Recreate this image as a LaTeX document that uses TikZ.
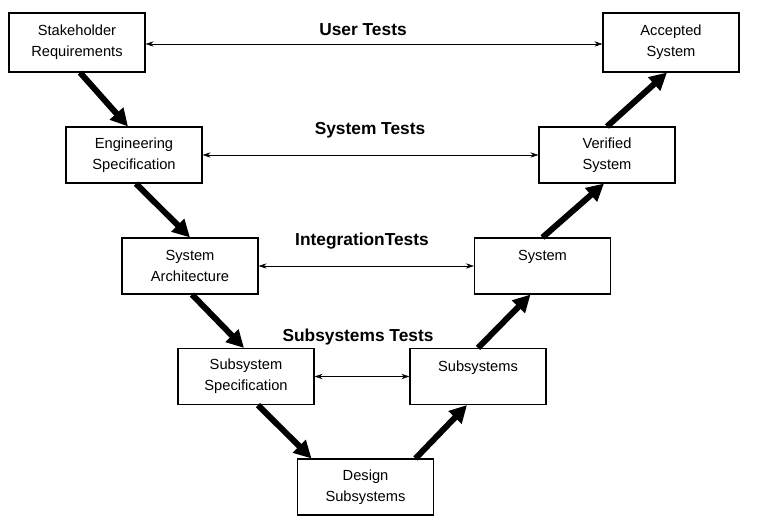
\documentclass[tikz,border=0pt]{standalone}
\usepackage{fontspec}
\setmainfont{Liberation Sans}
\usetikzlibrary{arrows.meta}
\tikzset{
  stage/.style={draw,line width=0.8pt,minimum width=136*0.75pt,minimum height=56*0.75pt,align=center,font=\fontsize{11}{15.5}\selectfont,inner sep=0pt},
  flow/.style={line width=4.5pt,-{Triangle[length=13pt,width=13pt]}},
  test/.style={{Stealth[length=6pt,width=4pt]}-{Stealth[length=6pt,width=4pt]},thin},
  testlabel/.style={font=\bfseries\fontsize{13}{15}\selectfont}
}
\begin{document}
\begin{tikzpicture}[x=0.75pt,y=-0.75pt]
    \useasboundingbox (0,0) rectangle (772,531);
    % left side
    \node[stage,minimum height=59*0.75pt] (sr) at (77,42.5) {Stakeholder\\Requirements};
    \node[stage] (es) at (134,155) {Engineering\\Specification};
    \node[stage] (sa) at (190,266) {System\\Architecture};
    \node[stage] (ss) at (246,376.5) {Subsystem\\Specification};
    \node[stage] (ds) at (365.5,487) {Design\\Subsystems};
    % right side
    \node[stage,minimum height=59*0.75pt] (as) at (671,42.5) {Accepted\\System};
    \node[stage] (vs) at (607,155) {Verified\\System};
    \node[stage] (sy) at (542.5,266) {System\\\phantom{X}};
    \node[stage] (sb) at (478,376.5) {Subsystems\\\phantom{X}};

    \draw[flow] ([xshift=3*0.75]sr.south) -- ([xshift=-6*0.75]es.north);
    \draw[flow] ([xshift=2*0.75]es.south) -- (sa.north);
    \draw[flow] ([xshift=2*0.75]sa.south) -- ([xshift=-2*0.75]ss.north);
    \draw[flow] ([xshift=12*0.75]ss.south) -- ([xshift=-54*0.75]ds.north);
    \draw[flow] ([xshift=50*0.75]ds.north) -- ([xshift=-11*0.75]sb.south);
    \draw[flow] (sb.north) -- ([xshift=-12*0.75]sy.south);
    \draw[flow] (sy.north) -- ([xshift=-3*0.75]vs.south);
    \draw[flow] (vs.north) -- ([xshift=-4*0.75]as.south);

    \draw[test] (sr.east |- 0,44) -- (as.west |- 0,44);
    \draw[test] (es.east) -- (vs.west);
    \draw[test] (sa.east) -- (sy.west);
    \draw[test] (ss.east) -- (sb.west);

    \node[testlabel] (ut) at (363,30) {User Tests};
    \node[testlabel] (st) at (370,130) {System Tests};
    \node[testlabel] (it) at (362,241) {IntegrationTests};
    \node[testlabel] (bt) at (358,337) {Subsystems Tests};
\end{tikzpicture}
\end{document}
